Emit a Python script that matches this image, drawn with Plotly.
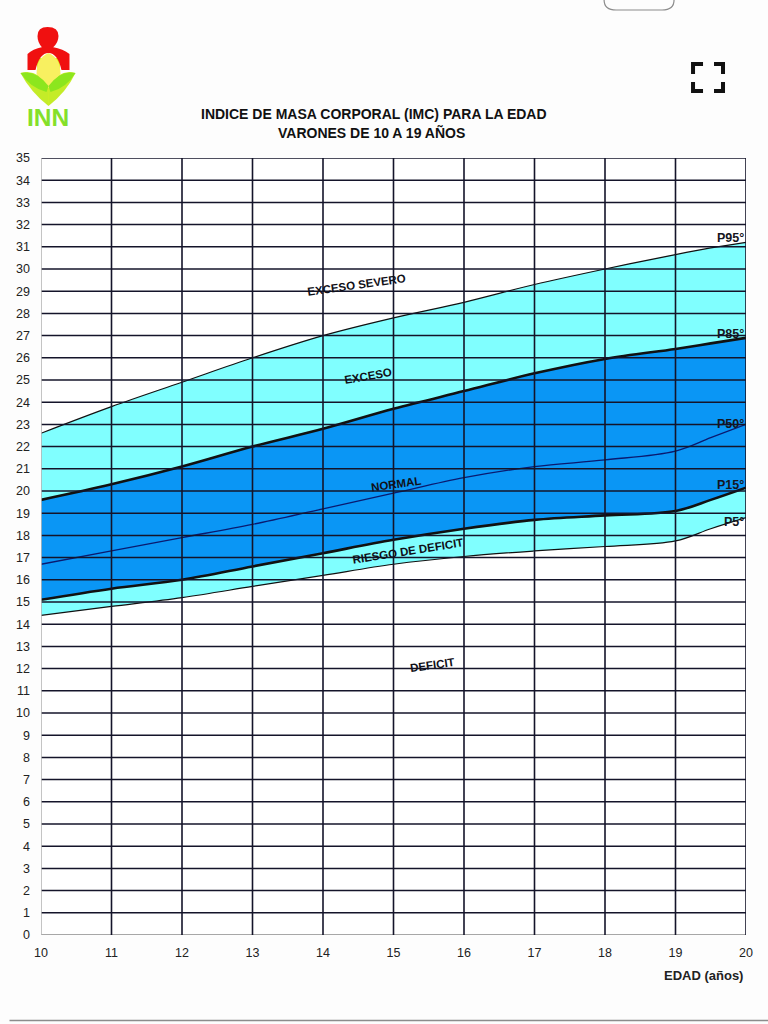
import re
import plotly.graph_objects as go

# -----------------------------
# Data
# -----------------------------
ages = [10, 11, 12, 13, 14, 15, 16, 17, 18, 19, 19.5, 20]
p5 = [14.4, 14.8, 15.2, 15.7, 16.2, 16.7, 17.05, 17.3, 17.5, 17.75, 18.3, 18.8]
p15 = [15.1, 15.6, 16.0, 16.6, 17.2, 17.8, 18.3, 18.7, 18.9, 19.1, 19.6, 20.15]
p50 = [16.7, 17.3, 17.9, 18.5, 19.2, 19.9, 20.6, 21.1, 21.4, 21.8, 22.4, 23.0]
p85 = [19.6, 20.3, 21.1, 22.0, 22.8, 23.7, 24.5, 25.3, 25.95, 26.4, 26.65, 26.9]
p95 = [22.6, 23.8, 24.9, 26.0, 27.0, 27.8, 28.5, 29.3, 30.0, 30.65, 30.95, 31.2]

x_ticks = list(range(10, 21))
y_ticks = list(range(0, 36))

zone_labels = ["EXCESO SEVERO", "EXCESO", "NORMAL", "RIESGO DE DEFICIT", "DEFICIT"]
zone_x = [14.47, 14.64, 15.04, 15.21, 15.55]
zone_y = [29.3, 25.2, 20.3, 17.3, 12.15]
zone_angle = [-8, -10, -8, -9, -8]

pct_labels = ["P95°", "P85°", "P50°", "P15°", "P5°"]
pct_y = [31.4, 27.05, 23.0, 20.25, 18.6]

# -----------------------------
# Page geometry
# -----------------------------
W, H = 768, 1024
LEFT, RIGHT, TOP, BOTTOM = 40.5, 746, 158, 935
CYAN = "#80FFFF"
BLUE = "#0A96F5"
INK = "#111111"
SPLINE = dict(shape="spline", smoothing=1.0)


def px(x):
    return (x - LEFT) / (RIGHT - LEFT)


def py(y):
    return (BOTTOM - y) / (BOTTOM - TOP)


def page_path(d):
    # path written in page pixels -> paper coords
    nums = iter(range(10000))
    def conv(m):
        v = float(m.group(0))
        return f"{px(v):.5f}" if next(nums) % 2 == 0 else f"{py(v):.5f}"
    return re.sub(r"-?\d+\.?\d*", conv, d)


def logo(d, fill):
    return dict(type="path", xref="paper", yref="paper", path=page_path(d),
                fillcolor=fill, line=dict(color=fill, width=0), layer="above")


def page_text(x, y, text, size, color="#111111", anchor="center"):
    return dict(x=px(x), y=py(y), xref="paper", yref="paper", text=text, showarrow=False,
                xanchor=anchor, yanchor="middle", font=dict(family="Liberation Sans", size=size, color=color))


fig = go.Figure()

fig.add_trace(go.Scatter(x=ages, y=p5, mode="lines", line=dict(color=INK, width=1.2, **SPLINE)))
fig.add_trace(go.Scatter(x=ages, y=p15, mode="lines", fill="tonexty", fillcolor=CYAN,
                         line=dict(color=INK, width=2.6, **SPLINE)))
fig.add_trace(go.Scatter(x=ages, y=p85, mode="lines", fill="tonexty", fillcolor=BLUE,
                         line=dict(color=INK, width=2.6, **SPLINE)))
fig.add_trace(go.Scatter(x=ages, y=p95, mode="lines", fill="tonexty", fillcolor=CYAN,
                         line=dict(color=INK, width=1.2, **SPLINE)))
fig.add_trace(go.Scatter(x=ages, y=p50, mode="lines", line=dict(color="#0A1A70", width=1.3, **SPLINE)))

# grid has to sit on top of the coloured bands
shapes = []
for v in y_ticks:
    shapes.append(dict(type="line", xref="x", yref="y", x0=10, x1=20, y0=v, y1=v, layer="above",
                       line=dict(color="#8a8a8a" if v == 0 else "#14142a", width=1.5)))
for v in x_ticks:
    shapes.append(dict(type="line", xref="x", yref="y", x0=v, x1=v, y0=0, y1=35, layer="above",
                       line=dict(color="#b5b5b5" if v == 10 else "#14142a", width=1.6)))

# logo
shapes += [
    logo("M36 58 Q36 80 48 106 Q60 80 60 58 Z", "#DDF01E"),
    logo("M20 73 Q36 68 48 86 L48 106 Q30 92 20 73 Z", "#C4EC28"),
    logo("M75 73 Q60 68 48 86 L48 106 Q66 92 75 73 Z", "#C4EC28"),
    logo("M37 36 Q37 27 47 27 Q58 27 58 36 Q58 43 52 48 L42 48 Q37 43 37 36 Z", "#F01010"),
    logo("M27 70 L27 54 Q32 49 42 47 L52 47 Q63 49 69 54 L69 70 L61 70 Q57 53 48 53 Q39 53 35 70 Z", "#F01010"),
    logo("M48 53 Q60 58 60 74 L48 88 L36 74 Q36 58 48 53 Z", "#F8F060"),
    logo("M20 73 Q36 70 48 86 L46 92 Q30 88 20 73 Z", "#8CE61E"),
    logo("M75 73 Q60 70 48 86 L50 92 Q66 88 75 73 Z", "#8CE61E"),
]

# fullscreen glyph, top button and bottom rule of the page
for d in ["M691 74 L691 62 L703 62 L703 66 L695 66 L695 74 Z",
          "M725 74 L725 62 L714 62 L714 66 L721 66 L721 74 Z",
          "M691 82 L691 93 L703 93 L703 89 L695 89 L695 82 Z",
          "M725 82 L725 93 L714 93 L714 89 L721 89 L721 82 Z"]:
    shapes.append(logo(d, "#111111"))
shapes.append(dict(type="path", xref="paper", yref="paper",
                   path=page_path("M604 0 Q604 10 616 10 L662 10 Q674 10 674 0"),
                   line=dict(color="#8c8c8c", width=1.2)))
shapes.append(dict(type="line", xref="paper", yref="paper", x0=px(9), x1=px(768), y0=py(1020.5), y1=py(1020.5),
                   line=dict(color="#8c8c8c", width=1.3)))

annotations = []
for label, x, y, ang in zip(zone_labels, zone_x, zone_y, zone_angle):
    annotations.append(dict(x=x, y=y, xref="x", yref="y", text=f"<b>{label}</b>", textangle=ang, showarrow=False,
                            font=dict(family="Liberation Sans", size=11.5, color="#101018")))
for label, y in zip(pct_labels, pct_y):
    annotations.append(dict(x=20, y=y, xref="x", yref="y", text=f"<b>{label}</b>", xanchor="right", yanchor="middle",
                            showarrow=False, font=dict(family="Liberation Sans", size=12.5, color="#151520")))

annotations.append(page_text(48, 117.5, "<b>INN</b>", 24.5, "#84E02A"))
annotations.append(page_text(745, 975, "<b>EDAD (años)</b>", 13, "#222222", "right"))
annotations.append(page_text(373.5, 114, "<b>INDICE DE MASA CORPORAL (IMC) PARA LA EDAD</b>", 14))
annotations.append(page_text(371.5, 132, "<b>VARONES DE 10 A 19 AÑOS</b>", 14))

fig.update_layout(
    width=W,
    height=H,
    autosize=False,
    margin=dict(l=LEFT, r=W - RIGHT, t=TOP, b=H - BOTTOM, pad=0),
    paper_bgcolor="#FDFDFD",
    plot_bgcolor="#FFFFFF",
    showlegend=False,
    shapes=shapes,
    annotations=annotations,
    font=dict(family="Liberation Sans", size=12.5, color="#222222"),
    xaxis=dict(range=[10, 20], tickvals=x_ticks, showgrid=False, zeroline=False, ticks="", ticklabelstandoff=8),
    yaxis=dict(range=[0, 35], tickvals=y_ticks, showgrid=False, zeroline=False, ticks="", ticklabelstandoff=10),
)

fig.write_html("out.html", config={"displayModeBar": False}, post_script="document.body.style.margin='0';")
